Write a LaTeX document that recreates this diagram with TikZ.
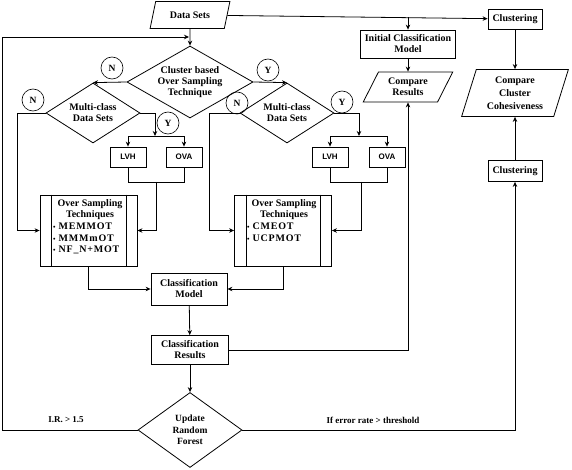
\documentclass[tikz,border=0pt]{standalone}
\usepackage{fontspec}
\setmainfont{Liberation Serif}
\newfontfamily\lsans{Liberation Sans}
\usetikzlibrary{shapes.geometric,arrows.meta}
\newcommand{\bul}{{\fontsize{7}{7}\selectfont\textbullet}\hspace{3pt}}
\begin{document}
\begin{tikzpicture}[x=1pt,y=-1pt,
  lw/.style={line width=0.8pt},
  arr/.style={lw,-{Stealth[length=5pt,width=4.5pt]}},
  ln/.style={lw},
  txt/.style={font=\fontsize{10}{11}\selectfont\bfseries, align=center},
  box/.style={draw,lw,txt,inner sep=0pt},
  para/.style={draw,lw,txt,trapezium,trapezium stretches=true,inner sep=0pt},
  dia/.style={draw,lw,txt,diamond,inner sep=0pt},
  yn/.style={draw,line width=0.6pt,circle,minimum size=22pt,inner sep=0pt,font=\fontsize{9.5}{10}\selectfont\bfseries},
  sbox/.style={draw,lw,inner sep=0pt,minimum width=36pt,minimum height=20pt,font=\lsans\fontsize{8}{9}\selectfont\bfseries},
  ost/.style={draw,lw,minimum width=97pt,minimum height=71pt,inner sep=0pt},
  items/.style={anchor=north west,align=left,inner sep=0pt,font=\fontsize{10}{11.5}\selectfont\bfseries\addfontfeature{LetterSpace=8}},
  lab/.style={font=\fontsize{9}{10}\selectfont\bfseries}
]
\useasboundingbox (0,0) rectangle (572,470);

% nodes
\node[para, trapezium left angle=64, trapezium right angle=116, minimum width=80pt, minimum height=27pt] (ds) at (190,15) {Data Sets};
\node[box, minimum width=54pt, minimum height=20pt] (clu1) at (515,19) {Clustering};
\node[box, minimum width=95pt, minimum height=28pt] (init) at (408,44) {Initial Classification\\Model};
\node[para, trapezium left angle=60, trapezium right angle=120, minimum width=90pt, minimum height=30pt] (cmp) at (408,87) {Compare\\Results};
\node[para, trapezium left angle=72, trapezium right angle=108, minimum width=107pt, minimum height=47pt, font=\fontsize{10}{13}\selectfont\bfseries] (coh) at (515,93) {Compare\\Cluster\\Cohesiveness};
\node[box, minimum width=54pt, minimum height=21pt] (clu2) at (515,171) {Clustering};

\node[dia, minimum width=126pt, minimum height=72pt, aspect=1.75] (cd) at (190,82) {Cluster based\\Over Sampling\\Technique};
\node[dia, minimum width=94pt, minimum height=60pt, aspect=1.6] (md1) at (93,113) {Multi-class\\Data Sets};
\node[dia, minimum width=94pt, minimum height=60pt, aspect=1.6] (md2) at (287,113) {Multi-class\\Data Sets};

\node[sbox] (lvh1) at (128,157) {LVH};
\node[sbox] (ova1) at (184,157) {OVA};
\node[sbox] (lvh2) at (330,157) {LVH};
\node[sbox] (ova2) at (387,157) {OVA};

\node[ost] (ost1) at (88.5,230.5) {};
\draw[lw] ([xshift=12pt]ost1.north west) -- ([xshift=12pt]ost1.south west);
\draw[lw] ([xshift=-11pt]ost1.north east) -- ([xshift=-11pt]ost1.south east);
\node[txt, anchor=north, inner sep=0pt] (ost1t) at (90,199) {Over Sampling\\Techniques};
\node[items] (ost1i) at (53,223) {\bul MEMMOT\\\bul MMMmOT\\\bul NF\_N+MOT};

\node[ost] (ost2) at (283,230.5) {};
\draw[lw] ([xshift=12pt]ost2.north west) -- ([xshift=12pt]ost2.south west);
\draw[lw] ([xshift=-12pt]ost2.north east) -- ([xshift=-12pt]ost2.south east);
\node[txt, anchor=north, inner sep=0pt] (ost2t) at (284,199) {Over Sampling\\Techniques};
\node[items] (ost2i) at (247,223) {\bul CMEOT\\\bul UCPMOT};

\node[box, minimum width=76pt, minimum height=32pt] (cm) at (189,289) {Classification\\Model};
\node[box, minimum width=77pt, minimum height=29pt] (cr) at (190,350) {Classification\\Results};
\node[dia, minimum width=104pt, minimum height=75pt, aspect=1.4, font=\fontsize{9.5}{11.5}\selectfont\bfseries] (urf) at (190,430) {Update\\Random\\Forest};

% Y/N circles
\node[yn] (n1) at (112,68) {N};
\node[yn] (y1) at (268,70) {Y};
\node[yn] (n2) at (33,100) {N};
\node[yn] (y2) at (168,123) {Y};
\node[yn] (n3) at (237,103) {N};
\node[yn] (y3) at (342,102) {Y};

% labels
\node[lab] (lir) at (66,420) {I.R. > 1.5};
\node[lab] (lerr) at (373,420) {If error rate > threshold};

% coordinates
\coordinate (t1) at (408,17.3);
\coordinate (j1) at (155,136);
\coordinate (m1) at (156,182);
\coordinate (l1) at (17,113);
\coordinate (j2) at (359,136);
\coordinate (m2) at (361,182);
\coordinate (l2) at (209,113);
\coordinate (fb0) at (2,37);
\coordinate (fb) at (189,37);

% connectors
\draw[arr] (ds) -- (cd);
\draw[arr] (ds) -- (clu1);
\draw[arr] (t1) -- (init);
\draw[arr] (init) -- (cmp);
\draw[arr] (clu1) -- (coh);
\draw[arr] (clu2) -- (coh);
\draw[arr] (cd.west) -- (md1.north);
\draw[arr] (cd.east) -- (md2.north);

\draw[arr] (md1.east) -| (j1);
\draw[arr] (j1) -| (lvh1.north);
\draw[arr] (j1) -| (ova1.north);
\draw[ln] (lvh1.south) |- (m1);
\draw[ln] (ova1.south) |- (m1);
\draw[arr] (m1) |- (ost1.east);
\draw[arr] (md1.west) -- (l1) |- (ost1.west);

\draw[arr] (md2.east) -| (j2);
\draw[arr] (j2) -| (lvh2.north);
\draw[arr] (j2) -| (ova2.north);
\draw[ln] (lvh2.south) |- (m2);
\draw[ln] (ova2.south) |- (m2);
\draw[arr] (m2) |- (ost2.east);
\draw[arr] (md2.west) -- (l2) |- (ost2.west);

\draw[arr] (ost1.south) |- (cm.west);
\draw[arr] (ost2.south) |- (cm.east);
\draw[arr] (cm) -- (cr);
\draw[arr] (cr.east) -| (cmp);
\draw[arr] (cr) -- (urf);
\draw[arr] (urf.west) -| (fb0) -- (fb);
\draw[arr] (urf.east) -| (clu2);
\end{tikzpicture}
\end{document}
